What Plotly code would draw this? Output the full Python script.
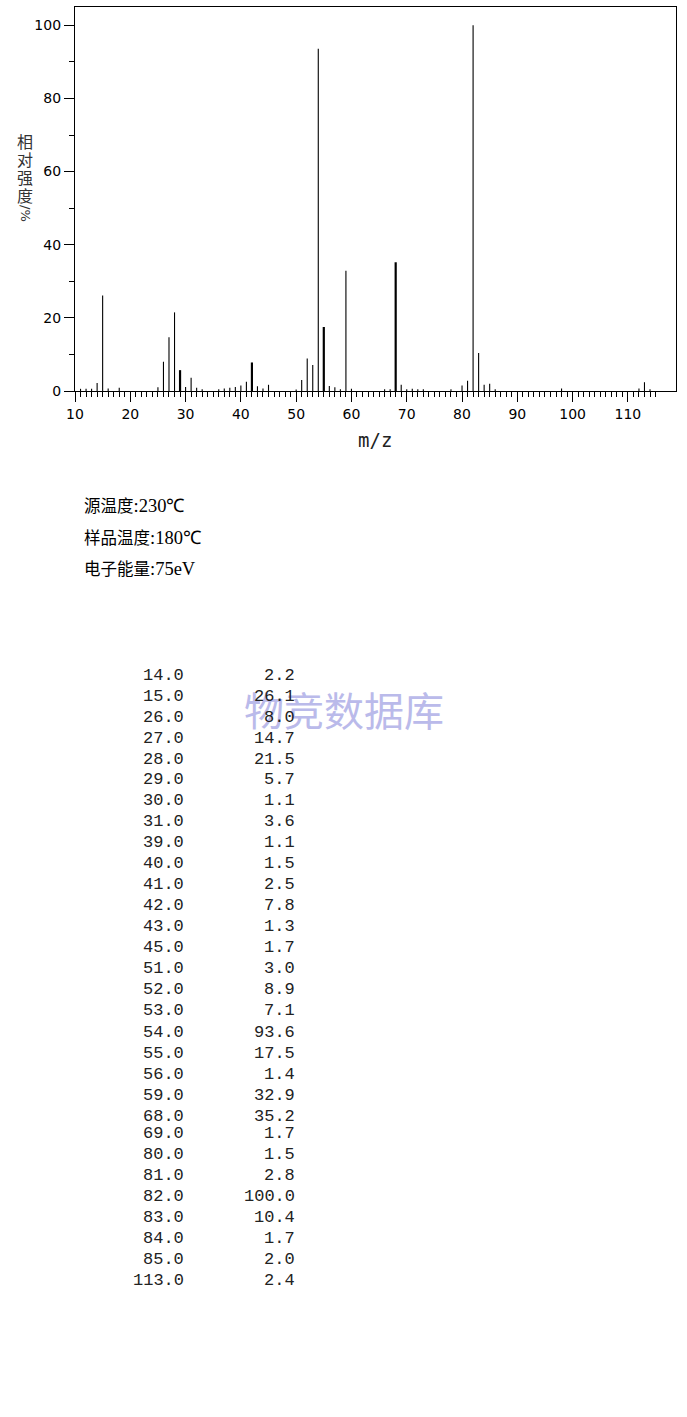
import plotly.graph_objects as go

# ---------------- data ----------------
mz_table = [14, 15, 26, 27, 28, 29, 30, 31, 39, 40, 41, 42, 43, 45, 51, 52, 53, 54, 55,
            56, 59, 68, 69, 80, 81, 82, 83, 84, 85, 113]
int_table = [2.2, 26.1, 8.0, 14.7, 21.5, 5.7, 1.1, 3.6, 1.1, 1.5, 2.5, 7.8, 1.3, 1.7, 3.0,
             8.9, 7.1, 93.6, 17.5, 1.4, 32.9, 35.2, 1.7, 1.5, 2.8, 100.0, 10.4, 1.7, 2.0, 2.4]

# small peaks visible in the spectrum but not listed in the table (estimated)
mz_minor = [11, 12, 13, 16, 18, 25, 32, 33, 36, 37, 38, 44, 50, 57, 58, 60, 66, 67,
            70, 71, 72, 73, 78, 86, 98, 112, 114]
int_minor = [0.6, 0.6, 0.6, 0.7, 0.9, 1.0, 0.9, 0.5, 0.5, 0.7, 0.9, 0.7, 0.4, 1.0, 0.5,
             0.6, 0.5, 0.5, 0.5, 0.6, 0.5, 0.5, 0.5, 0.5, 0.7, 0.7, 0.5]

thick_mz = [29, 42, 55, 68]

x_ticks = [10, 20, 30, 40, 50, 60, 70, 80, 90, 100, 110]
x_minor_ticks = list(range(10, 116))
y_ticks = [0, 20, 40, 60, 80, 100]
y_minor_ticks = [10, 30, 50, 70, 90]

cond_labels = ["源温度", "样品温度", "电子能量"]
cond_values = [":230℃", ":180℃", ":75eV"]
watermark = "物竞数据库"
y_title_chars = ["相", "对", "强", "度"]

# ---------------- layout geometry ----------------
W, H = 687, 1417
PL, PR, PT, PB = 75, 676, 7, 391


def px(xp):
    return (xp - PL) / (PR - PL)


def py(yp):
    return (PB - yp) / (PB - PT)


fig = go.Figure()

all_mz = mz_table + mz_minor
all_int = int_table + int_minor
order = sorted(range(len(all_mz)), key=lambda i: all_mz[i])

thin_x, thin_y, thick_x, thick_y = [], [], [], []
for i in order:
    m, v = all_mz[i], all_int[i]
    if m in thick_mz:
        thick_x += [m, m, None]
        thick_y += [0, v, None]
    else:
        thin_x += [m, m, None]
        thin_y += [0, v, None]

fig.add_trace(go.Scatter(x=thin_x, y=thin_y, mode="lines",
                         line=dict(color="black", width=1.1), hoverinfo="skip",
                         showlegend=False))
fig.add_trace(go.Scatter(x=thick_x, y=thick_y, mode="lines",
                         line=dict(color="black", width=2.2), hoverinfo="skip",
                         showlegend=False))

tick_font = dict(family="DejaVu Sans", size=14, color="black")

fig.update_layout(
    width=W, height=H,
    margin=dict(l=PL, r=W - PR, t=PT, b=H - PB, pad=0),
    paper_bgcolor="white", plot_bgcolor="white",
    xaxis=dict(range=[10, 118.7], showgrid=False, zeroline=False,
               showline=True, linecolor="black", linewidth=1.2, mirror=True,
               tickmode="array", tickvals=x_ticks, ticks="outside", ticklen=10,
               tickwidth=1, tickcolor="black", tickfont=tick_font,
               minor=dict(tickmode="array", tickvals=x_minor_ticks, ticks="outside",
                          ticklen=5, tickwidth=1, tickcolor="black", showgrid=False)),
    yaxis=dict(range=[0, 105], showgrid=False, zeroline=False,
               showline=True, linecolor="black", linewidth=1.2, mirror=True,
               tickmode="array", tickvals=y_ticks, ticks="outside", ticklen=10,
               tickwidth=1, tickcolor="black", tickfont=tick_font,
               minor=dict(tickmode="array", tickvals=y_minor_ticks, ticks="outside",
                          ticklen=5, tickwidth=1, tickcolor="black", showgrid=False)),
)

ann = []
# watermark (drawn first, behind table text)
ann.append(dict(text=watermark, x=px(344), y=py(709), xref="paper", yref="paper",
                xanchor="center", yanchor="middle", showarrow=False,
                font=dict(family="Noto Sans CJK SC", size=40, color="rgb(186,186,234)")))

# y-axis title: stacked characters
y_char_centers = [141, 159, 177, 195]
for ch, yc in zip(y_title_chars, y_char_centers):
    ann.append(dict(text=ch, x=px(25), y=py(yc), xref="paper", yref="paper",
                    xanchor="center", yanchor="middle", showarrow=False,
                    font=dict(family="Noto Sans CJK SC", size=16, color="#333333")))
ann.append(dict(text="/%", x=px(25), y=py(213), xref="paper", yref="paper",
                xanchor="center", yanchor="middle", showarrow=False, textangle=90,
                font=dict(family="DejaVu Sans", size=13, color="#333333")))

# x-axis title
ann.append(dict(text="m/z", x=px(375), y=py(440), xref="paper", yref="paper",
                xanchor="center", yanchor="middle", showarrow=False,
                font=dict(family="DejaVu Sans Mono", size=19, color="#222222")))

# experimental conditions
for i, (lab, val) in enumerate(zip(cond_labels, cond_values)):
    txt = (f"<span style='font-family:Noto Sans CJK SC'>{lab}</span>"
           f"<span style='font-family:Liberation Serif;font-size:18.5px'>{val}</span>")
    ann.append(dict(text=txt, x=px(82), y=py(505 + 31.5 * i), xref="paper", yref="paper",
                    xanchor="left", yanchor="middle", showarrow=False,
                    font=dict(family="Noto Sans CJK SC", size=16.5, color="black")))

# peak table
mono = dict(family="Liberation Mono", size=17, color="#222222")
for i, (m, v) in enumerate(zip(mz_table, int_table)):
    yc = 675 + 21 * i - (4 if i >= 22 else 0)
    ann.append(dict(text=f"{m:.1f}", x=px(186), y=py(yc), xref="paper", yref="paper",
                    xanchor="right", yanchor="middle", showarrow=False, font=mono))
    ann.append(dict(text=f"{v:.1f}", x=px(297), y=py(yc), xref="paper", yref="paper",
                    xanchor="right", yanchor="middle", showarrow=False, font=mono))

fig.update_layout(annotations=ann)
fig.write_html("out.html", config={"displayModeBar": False},
               post_script="document.body.style.margin='0px';document.body.style.padding='0px';")
